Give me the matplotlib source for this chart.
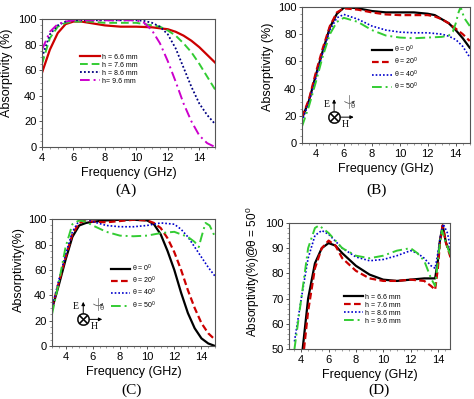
import numpy as np
import matplotlib
matplotlib.use("Agg")
import matplotlib.pyplot as plt
from matplotlib.patches import FancyArrowPatch

plt.rcParams['font.family'] = ['Liberation Sans', 'DejaVu Sans']
plt.rcParams['mathtext.default'] = 'regular'

# ---- Panel A : absorptivity vs frequency for several heights ----
fa_66 = [4, 4.5, 5, 5.5, 6, 6.5, 7, 8, 9, 10, 11, 12, 12.5, 13, 13.5, 14, 14.5, 15]
aa_66 = [58, 76, 89, 96, 98, 98, 97, 95, 94, 94, 93.5, 92, 90, 87, 83, 78, 72, 66]
fa_76 = [4, 4.5, 5, 5.5, 6, 7, 8, 9, 10, 11, 11.5, 12, 12.5, 13, 13.5, 14, 14.5, 15]
aa_76 = [65, 85, 94, 97, 98, 98, 97, 97, 97, 95, 94, 91, 87, 81, 74, 65, 55, 45]
fa_86 = [4, 4.5, 5, 5.5, 6, 7, 8, 9, 10, 10.5, 11, 11.5, 12, 12.5, 13, 13.5, 14, 14.5, 15]
aa_86 = [70, 88, 95, 98, 99, 99, 99, 99, 99, 98.5, 97, 94, 88, 77, 62, 47, 34, 25, 18]
fa_96 = [4, 4.5, 5, 5.5, 6, 7, 8, 9, 10, 10.5, 11, 11.5, 12, 12.5, 13, 13.5, 14, 14.5, 15]
aa_96 = [76, 90, 96, 98, 99, 99, 99, 99, 99, 97, 91, 81, 67, 51, 34, 20, 9, 3, 0]
labels_a = ["h = 6.6 mm", "h = 7.6 mm", "h = 8.6 mm", "h= 9.6 mm"]

# ---- Panel B : incidence angle ----
fb_0 = [3, 3.5, 4, 4.5, 5, 5.5, 6, 6.5, 7, 8, 9, 10, 11, 12, 12.5, 13, 13.5, 14, 14.5, 15]
ab_0 = [18, 31, 50, 68, 85, 95, 99.5, 99.5, 99, 97, 96, 96, 96, 95, 94, 91, 88, 83, 77, 70]
fb_20 = [3, 3.5, 4, 4.5, 5, 5.5, 6, 7, 8, 9, 10, 11, 12, 12.5, 13, 13.5, 14, 14.5, 15]
ab_20 = [19, 32, 52, 70, 86, 96, 99, 98, 96, 94.5, 94, 94, 94, 93, 91, 88, 84, 80, 75]
fb_40 = [3, 3.5, 4, 4.5, 5, 5.5, 6, 7, 8, 9, 10, 11, 12, 13, 13.5, 14, 14.5, 15]
ab_40 = [16, 30, 48, 67, 83, 92, 94.5, 91, 86, 83, 81.5, 81, 81, 80, 78.5, 76, 71, 63]
fb_50 = [3, 3.5, 4, 4.5, 5, 5.5, 6, 7, 8, 9, 10, 11, 12, 13, 13.5, 13.8, 14, 14.2, 14.35, 14.6, 15]
ab_50 = [12, 27, 45, 64, 80, 89, 92, 89, 83, 79, 77.5, 77, 77.5, 78, 79, 82, 88, 96, 100, 92, 86]
labels_b = ["\u03b8 = 0$^0$", "\u03b8 = 20$^0$", "\u03b8 = 40$^0$", "\u03b8 = 50$^0$"]

# ---- Panel C : incidence angle (other polarisation) ----
fc_0 = [3, 3.5, 4, 4.5, 5, 5.5, 6, 7, 8, 9, 10, 10.5, 11, 11.5, 12, 12.5, 13, 13.5, 14, 14.5, 15]
ac_0 = [29, 48, 68, 86, 95, 97, 98, 99, 99.5, 99.5, 99, 96, 88, 75, 60, 42, 26, 14, 6, 2, 0]
fc_20 = [3, 3.5, 4, 4.5, 5, 5.5, 6, 7, 8, 9, 10, 10.5, 11, 11.5, 12, 12.5, 13, 13.5, 14, 14.5, 15]
ac_20 = [30, 50, 70, 88, 97, 99, 98, 97.5, 98.5, 99.5, 99, 97, 93, 85, 74, 60, 44, 30, 18, 10, 5]
fc_40 = [3, 3.5, 4, 4.5, 5, 5.5, 6, 7, 8, 9, 10, 11, 12, 12.5, 13, 13.5, 14, 14.5, 15]
ac_40 = [30, 52, 72, 90, 99, 100, 98, 95, 94, 94, 95, 97, 96, 92, 86, 78, 70, 62, 55]
fc_50 = [3, 3.5, 4, 4.5, 5, 5.5, 6, 7, 8, 9, 10, 11, 12, 12.5, 13, 13.5, 13.8, 14, 14.3, 14.6, 15]
ac_50 = [25, 50, 78, 96, 99, 98, 95, 90, 87, 86.5, 87, 89, 90, 88, 86, 82, 78, 86, 97, 95, 86]

# ---- Panel D : heights at theta = 50 ----
fd_66 = [4.1, 4.5, 5, 5.5, 6, 6.5, 7, 8, 9, 10, 11, 12, 13, 13.8, 14, 14.15, 14.35, 14.6, 15]
ad_66 = [50, 70, 84, 90, 92, 91, 88, 83, 79.5, 77.5, 77, 77.5, 78, 78, 85, 93, 99, 92, 87]
fd_76 = [4.2, 4.5, 5, 5.5, 6, 6.5, 7, 8, 9, 10, 11, 12, 13, 13.5, 13.8, 14, 14.15, 14.35, 14.6, 15]
ad_76 = [50, 65, 82, 90, 93, 91, 86, 81, 78, 77, 77, 77.5, 77, 75, 73.5, 82, 92, 99, 92, 85]
fd_86 = [3.5, 4, 4.5, 5, 5.5, 6, 7, 8, 9, 10, 11, 12, 12.5, 13, 13.5, 13.8, 14, 14.2, 14.4, 14.7, 15]
ad_86 = [53, 70, 86, 95, 97, 95.5, 90, 86.5, 85, 85.5, 87, 89, 88, 86, 83, 82, 88, 95, 99.5, 96, 88]
fd_96 = [3.5, 4, 4.5, 5, 5.3, 6, 7, 8, 9, 10, 11, 12, 12.5, 13, 13.5, 13.8, 14, 14.15, 14.3, 14.6, 15]
ad_96 = [50, 70, 90, 98, 99, 96, 90, 87, 86, 87, 89, 90, 88, 85, 78, 75, 85, 92, 97, 92, 86]
labels_d = ["h = 6.6 mm", "h = 7.6 mm", "h = 8.6 mm", "h = 9.6 mm"]


def style_axes(ax, xlim, ylim, xticks, yticks, ylabel, ylpos, ylsize=9):
    ax.set_xlim(*xlim)
    ax.set_ylim(*ylim)
    ax.set_xticks(xticks)
    ax.set_yticks(yticks)
    ax.minorticks_on()
    ax.tick_params(which='major', direction='out', length=2.5, width=0.7,
                   labelsize=8, pad=1.5, color='#555555')
    ax.tick_params(which='minor', direction='out', length=1.5, width=0.5,
                   color='#777777')
    for s in ax.spines.values():
        s.set_color('#555555')
        s.set_linewidth(0.8)
    ax.set_xlabel("Frequency (GHz)", fontsize=9, labelpad=3)
    ax.set_ylabel(ylabel, fontsize=ylsize)
    ax.yaxis.set_label_coords(-0.165, ylpos)


def add_legend(ax, x, y):
    ax.legend(loc='upper left', bbox_to_anchor=(x, y), frameon=False, fontsize=5,
              handlelength=2.8, labelspacing=0.15, handletextpad=0.3, borderpad=0,
              borderaxespad=0)


def draw_inset(ax, cx, cy, dy):
    # small E/H/theta sketch
    ax.add_patch(FancyArrowPatch((cx, cy + 0.25 * dy), (cx, cy + 1.6 * dy),
                                 arrowstyle='-|>', mutation_scale=5, lw=0.7, color='k'))
    ax.add_patch(FancyArrowPatch((cx + 0.25, cy), (cx + 1.6, cy),
                                 arrowstyle='-|>', mutation_scale=5, lw=0.7, color='k'))
    ax.plot([cx], [cy], marker='$\\otimes$', ms=9, color='k', mew=0.3)
    ax.text(cx - 0.55, cy + 1.0 * dy, "E", fontsize=7, family='Liberation Serif',
            ha='center', va='center')
    ax.text(cx + 0.8, cy - 0.6 * dy, "H", fontsize=7, family='Liberation Serif',
            ha='center', va='center')
    ax.plot([cx + 1.05, cx + 1.05], [cy + 0.7 * dy, cy + 1.7 * dy], color='#666666', lw=0.5)
    ax.add_patch(FancyArrowPatch((cx + 0.6, cy + 1.35 * dy), (cx + 1.6, cy + 1.45 * dy),
                                 connectionstyle='arc3,rad=0.6', arrowstyle='-|>',
                                 mutation_scale=4, lw=0.5, color='#444444'))
    ax.text(cx + 1.2, cy + 0.85 * dy, "\u03b8", fontsize=5.5, ha='left', va='center',
            color='#444444')


fig = plt.figure(figsize=(4.74, 3.99), dpi=100)

# Panel A
axA = fig.add_axes([0.0886, 0.6316, 0.365, 0.3208])
axA.plot(fa_66, aa_66, color='#cc0000', lw=1.6, label=labels_a[0])
axA.plot(fa_76, aa_76, color='#33cc33', lw=1.4, ls=(0, (4, 2)), label=labels_a[1])
axA.plot(fa_86, aa_86, color='#000080', lw=1.3, ls=(0, (1, 1.2)), label=labels_a[2])
axA.plot(fa_96, aa_96, color='#cc00cc', lw=1.4, ls=(0, (5, 2, 1, 2)), label=labels_a[3])
style_axes(axA, (4, 15), (0, 100), [4, 6, 8, 10, 12, 14], [0, 20, 40, 60, 80, 100],
           "Absorptivity (%)", 0.58)
add_legend(axA, 0.22, 0.73)

# Panel B
axB = fig.add_axes([0.637, 0.6416, 0.354, 0.341])
axB.plot(fb_0, ab_0, color='k', lw=1.6, label=labels_b[0])
axB.plot(fb_20, ab_20, color='#cc0000', lw=1.6, ls=(0, (3, 1.5)), label=labels_b[1])
axB.plot(fb_40, ab_40, color='#0000cc', lw=1.2, ls=(0, (1, 1.2)), label=labels_b[2])
axB.plot(fb_50, ab_50, color='#33cc33', lw=1.4, ls=(0, (5, 2, 1, 2)), label=labels_b[3])
style_axes(axB, (3, 15), (0, 100), [4, 6, 8, 10, 12, 14], [0, 20, 40, 60, 80, 100],
           "Absorptivity (%)", 0.56)
add_legend(axB, 0.42, 0.73)
draw_inset(axB, 5.3, 19, 9.5)

# Panel C
axC = fig.add_axes([0.1097, 0.1328, 0.344, 0.318])
axC.plot(fc_0, ac_0, color='k', lw=1.6, label=labels_b[0])
axC.plot(fc_20, ac_20, color='#cc0000', lw=1.6, ls=(0, (3, 1.5)), label=labels_b[1])
axC.plot(fc_40, ac_40, color='#0000cc', lw=1.2, ls=(0, (1, 1.2)), label=labels_b[2])
axC.plot(fc_50, ac_50, color='#33cc33', lw=1.4, ls=(0, (5, 2, 1, 2)), label=labels_b[3])
style_axes(axC, (3, 15), (0, 100), [4, 6, 8, 10, 12, 14], [0, 20, 40, 60, 80, 100],
           "Absorptivity(%)", 0.60)
add_legend(axC, 0.36, 0.66)
draw_inset(axC, 5.3, 21, 10)

# Panel D
axD = fig.add_axes([0.6097, 0.1253, 0.340, 0.316])
axD.plot(fd_66, ad_66, color='k', lw=1.6, label=labels_d[0])
axD.plot(fd_76, ad_76, color='#cc0000', lw=1.6, ls=(0, (3, 1.5)), label=labels_d[1])
axD.plot(fd_86, ad_86, color='#0000cc', lw=1.2, ls=(0, (1, 1.2)), label=labels_d[2])
axD.plot(fd_96, ad_96, color='#33cc33', lw=1.4, ls=(0, (5, 2, 1, 2)), label=labels_d[3])
style_axes(axD, (3.1, 14.9), (50, 100), [4, 6, 8, 10, 12, 14], [50, 60, 70, 80, 90, 100],
           "Absorptivity(%)@\u03b8 = 50$^0$", 0.61, ylsize=8.5)
add_legend(axD, 0.34, 0.44)

# captions
for txt, x, y in [("(A)", 0.266, 0.524), ("(B)", 0.795, 0.524), ("(C)", 0.278, 0.022), ("(D)", 0.80, 0.022)]:
    fig.text(x, y, txt, fontsize=11, family='Liberation Serif', ha='center', va='center')

fig.savefig("out.png", dpi=100)
